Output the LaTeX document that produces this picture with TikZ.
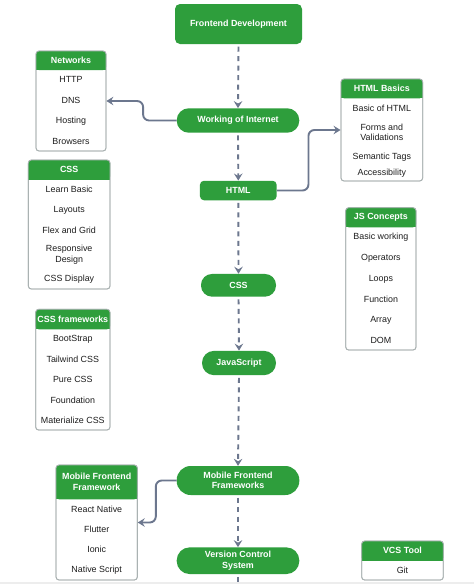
\documentclass[tikz,border=0pt]{standalone}
\usepackage{fontspec}
\setmainfont{Liberation Sans}
\usetikzlibrary{arrows.meta}
\definecolor{ggreen}{RGB}{46,158,60}
\definecolor{gline}{RGB}{108,119,142}
\definecolor{gborder}{RGB}{170,178,178}
\definecolor{gtext}{RGB}{30,30,30}
\tikzset{
  mainnode/.style={fill=ggreen, text=white, font=\bfseries\fontsize{8.9}{10.5}\selectfont, align=center, inner sep=0pt},
  lbox/.style={draw=gborder, line width=0.8pt, fill=white, rounded corners=3pt, inner sep=0pt},
  htext/.style={text=white, font=\bfseries\fontsize{8.9}{10.5}\selectfont, align=center, inner sep=0pt},
  itext/.style={text=gtext, font=\fontsize{8.9}{10.5}\selectfont, align=center, inner sep=0pt},
  dconn/.style={draw=gline, line width=1.9pt, dash pattern=on 5pt off 4.5pt, shorten <=2.5pt},
  dtip/.style={dconn, -{Stealth[length=7pt,width=8.5pt,inset=2.5pt]}},
  conn/.style={draw=gline, line width=1.9pt, rounded corners=6pt, -{Stealth[length=7pt,width=8.5pt,inset=2.5pt]}}
}
\newcommand{\hdrfill}[4]{%
  \fill[ggreen, rounded corners=3pt] (#1,#2) rectangle (#3,#4);
  \fill[ggreen] (#1,#2+4) rectangle (#3,#4);
}
\begin{document}
\begin{tikzpicture}[x=1pt,y=-1pt]
\useasboundingbox (0,0) rectangle (474,584);
\fill[white] (0,0) rectangle (474,584);
\fill[black!7] (0,581.7) rectangle (474,584);

% main nodes
\node[mainnode, minimum width=127pt, minimum height=40pt, rounded corners=5pt] (fd) at (238.5,24) {Frontend Development};
\node[mainnode, minimum width=122.6pt, minimum height=24.4pt, rounded corners=12pt] (woi) at (238,120.5) {Working of Internet};
\node[mainnode, minimum width=76.7pt, minimum height=19.5pt, rounded corners=4pt] (html) at (238.3,190.5) {HTML};
\node[mainnode, minimum width=75pt, minimum height=22.7pt, rounded corners=11pt] (css) at (238.5,285.3) {CSS};
\node[mainnode, minimum width=74pt, minimum height=24.3pt, rounded corners=12pt] (js) at (239,363) {JavaScript};
\node[mainnode, minimum width=122.6pt, minimum height=29pt, rounded corners=14pt] (mff) at (238,480.5) {Mobile Frontend\\Frameworks};
\node[mainnode, minimum width=122.6pt, minimum height=26.7pt, rounded corners=13pt] (vcs) at (238,560.7) {Version Control\\System};
\coordinate (bot) at (238,584);

% dashed spine
\draw[dtip] (fd.south) -- (woi.north);
\draw[dtip] (woi.south) -- (html.north);
\draw[dtip] (html.south) -- (css.north);
\draw[dtip] (css.south) -- (js.north);
\draw[dtip] (js.south) -- (mff.north);
\draw[dtip] (mff.south) -- (vcs.north);
\draw[dconn] (vcs.south) -- (bot);

% Networks
\node[lbox, minimum width=70pt, minimum height=100pt] (net) at (71,101) {};
\hdrfill{36}{51}{106}{70}
\draw[gborder, line width=0.8pt, rounded corners=3pt] (36,51) rectangle (106,151);
\node[htext] (net-h) at (71,60.5) {Networks};
\node[itext] (net-1) at (71,79.5) {HTTP};
\node[itext] (net-2) at (71,100.3) {DNS};
\node[itext] (net-3) at (71,121) {Hosting};
\node[itext] (net-4) at (71,141.5) {Browsers};

% HTML Basics
\node[lbox, minimum width=81.7pt, minimum height=102pt] (hb) at (381.8,130) {};
\hdrfill{341}{79}{422.7}{98.3}
\draw[gborder, line width=0.8pt, rounded corners=3pt] (341,79) rectangle (422.7,181);
\node[htext] (hb-h) at (381.8,88.5) {HTML Basics};
\node[itext] (hb-1) at (381.8,108) {Basic of HTML};
\node[itext] (hb-2) at (381.8,132.3) {Forms and\\Validations};
\node[itext] (hb-3) at (381.8,156.7) {Semantic Tags};
\node[itext] (hb-4) at (381.8,173.5) {Accessibility};

% CSS
\node[lbox, minimum width=81.7pt, minimum height=129pt] (cssb) at (69.2,224.5) {};
\hdrfill{28.3}{160}{110}{179.7}
\draw[gborder, line width=0.8pt, rounded corners=3pt] (28.3,160) rectangle (110,289);
\node[htext] (cssb-h) at (69.2,169.5) {CSS};
\node[itext] (cssb-1) at (69.2,189.5) {Learn Basic};
\node[itext] (cssb-2) at (69.2,210) {Layouts};
\node[itext] (cssb-3) at (69.2,230.3) {Flex and Grid};
\node[itext] (cssb-4) at (69.2,254.5) {Responsive\\Design};
\node[itext] (cssb-5) at (69.2,279) {CSS Display};

% JS Concepts
\node[lbox, minimum width=70.3pt, minimum height=142.3pt] (jsc) at (380.9,278.9) {};
\hdrfill{345.7}{207.7}{416}{227.3}
\draw[gborder, line width=0.8pt, rounded corners=3pt] (345.7,207.7) rectangle (416,350);
\node[htext] (jsc-h) at (380.9,217.3) {JS Concepts};
\node[itext] (jsc-1) at (380.9,237) {Basic working};
\node[itext] (jsc-2) at (380.9,258.3) {Operators};
\node[itext] (jsc-3) at (380.9,279.3) {Loops};
\node[itext] (jsc-4) at (380.9,299.3) {Function};
\node[itext] (jsc-5) at (380.9,320) {Array};
\node[itext] (jsc-6) at (380.9,340) {DOM};

% CSS frameworks
\node[lbox, minimum width=74.3pt, minimum height=120.7pt] (cfw) at (72.8,369.7) {};
\hdrfill{35.7}{309.3}{110}{329.3}
\draw[gborder, line width=0.8pt, rounded corners=3pt] (35.7,309.3) rectangle (110,430);
\node[htext] (cfw-h) at (72.8,319) {CSS frameworks};
\node[itext] (cfw-1) at (72.8,339) {BootStrap};
\node[itext] (cfw-2) at (72.8,359.3) {Tailwind CSS};
\node[itext] (cfw-3) at (72.8,379.5) {Pure CSS};
\node[itext] (cfw-4) at (72.8,400) {Foundation};
\node[itext] (cfw-5) at (72.8,420) {Materialize CSS};

% Mobile Frontend Framework
\node[lbox, minimum width=81.3pt, minimum height=115pt] (mfb) at (96.7,522.5) {};
\hdrfill{56}{465}{137.3}{499.3}
\draw[gborder, line width=0.8pt, rounded corners=3pt] (56,465) rectangle (137.3,580);
\node[htext] (mfb-h) at (96.7,481.8) {Mobile Frontend\\Framework};
\node[itext] (mfb-1) at (96.7,509.3) {React Native};
\node[itext] (mfb-2) at (96.7,529.5) {Flutter};
\node[itext] (mfb-3) at (96.7,549.5) {Ionic};
\node[itext] (mfb-4) at (96.7,570) {Native Script};

% VCS Tool
\node[lbox, minimum width=81.6pt, minimum height=39pt] (vt) at (402.5,560.5) {};
\hdrfill{361.7}{541}{443.3}{560.7}
\draw[gborder, line width=0.8pt, rounded corners=3pt] (361.7,541) rectangle (443.3,580);
\node[htext] (vt-h) at (402.5,550.5) {VCS Tool};
\node[itext] (vt-1) at (402.5,570.3) {Git};

% side connectors
\draw[conn] (woi.west) -- ++(-33.4,0) |- (net.east);
\draw[conn] (html.east) -- ++(31.6,0) |- (hb.west);
\draw[conn] (mff.west) -- ++(-20.7,0) |- (mfb.east);
\end{tikzpicture}
\end{document}
